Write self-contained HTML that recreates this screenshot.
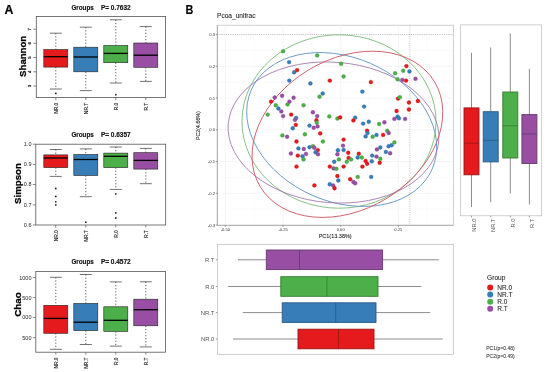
<!DOCTYPE html>
<html><head><meta charset="utf-8"><style>
html,body{margin:0;padding:0;background:#fff;width:550px;height:372px;overflow:hidden}
svg{display:block;will-change:transform}
text{font-family:"Liberation Sans",sans-serif}
</style></head><body>
<svg width="550" height="372" viewBox="0 0 550 372">
<text x="71.4" y="9.5" font-size="6.3" text-anchor="start" font-weight="bold" fill="#111" stroke="#111" stroke-width="0.15">Groups</text>
<text x="100.9" y="9.5" font-size="6.5" text-anchor="start" font-weight="bold" fill="#111" stroke="#111" stroke-width="0.15">P= 0.7632</text>
<text x="25.9" y="56.35" font-size="9.6" text-anchor="middle" font-weight="bold" fill="#000" transform="rotate(-90 25.9 56.35)" stroke="#000" stroke-width="0.25">Shannon</text>
<rect x="36.3" y="16.5" width="129.3" height="81.0" fill="none" stroke="#555" stroke-width="0.8"/>
<line x1="33.3" y1="29.2" x2="36.3" y2="29.2" stroke="#555" stroke-width="0.7"/>
<text x="31.299999999999997" y="29.2" font-size="4.2" text-anchor="middle" font-weight="normal" fill="#222" transform="rotate(-90 31.299999999999997 29.2)" stroke="#222" stroke-width="0.25">7</text>
<line x1="33.3" y1="43.3" x2="36.3" y2="43.3" stroke="#555" stroke-width="0.7"/>
<text x="31.299999999999997" y="43.3" font-size="4.2" text-anchor="middle" font-weight="normal" fill="#222" transform="rotate(-90 31.299999999999997 43.3)" stroke="#222" stroke-width="0.25">6</text>
<line x1="33.3" y1="57.5" x2="36.3" y2="57.5" stroke="#555" stroke-width="0.7"/>
<text x="31.299999999999997" y="57.5" font-size="4.2" text-anchor="middle" font-weight="normal" fill="#222" transform="rotate(-90 31.299999999999997 57.5)" stroke="#222" stroke-width="0.25">5</text>
<line x1="33.3" y1="71.8" x2="36.3" y2="71.8" stroke="#555" stroke-width="0.7"/>
<text x="31.299999999999997" y="71.8" font-size="4.2" text-anchor="middle" font-weight="normal" fill="#222" transform="rotate(-90 31.299999999999997 71.8)" stroke="#222" stroke-width="0.25">4</text>
<line x1="33.3" y1="86" x2="36.3" y2="86" stroke="#555" stroke-width="0.7"/>
<text x="31.299999999999997" y="86" font-size="4.2" text-anchor="middle" font-weight="normal" fill="#222" transform="rotate(-90 31.299999999999997 86)" stroke="#222" stroke-width="0.25">3</text>
<line x1="55.8" y1="33.2" x2="55.8" y2="49.6" stroke="#333" stroke-width="0.8" stroke-dasharray="1.2 1.9"/>
<line x1="55.8" y1="67.1" x2="55.8" y2="89" stroke="#333" stroke-width="0.8" stroke-dasharray="1.2 1.9"/>
<line x1="49.8" y1="33.2" x2="61.8" y2="33.2" stroke="#444" stroke-width="0.75"/>
<line x1="49.8" y1="89" x2="61.8" y2="89" stroke="#444" stroke-width="0.75"/>
<rect x="43.8" y="49.6" width="24" height="17.499999999999993" fill="#E41A1C" stroke="#222" stroke-width="0.6"/>
<line x1="43.8" y1="56.7" x2="67.8" y2="56.7" stroke="#000" stroke-width="1.3"/>
<circle cx="55.8" cy="93.4" r="0.9" fill="#222"/>
<line x1="55.8" y1="97.5" x2="55.8" y2="100.0" stroke="#555" stroke-width="0.7"/>
<text x="58.199999999999996" y="102.7" font-size="4.9" text-anchor="end" font-weight="normal" fill="#222" transform="rotate(-90 58.199999999999996 102.7)" stroke="#222" stroke-width="0.15">NR.0</text>
<line x1="85.8" y1="27.2" x2="85.8" y2="47.2" stroke="#333" stroke-width="0.8" stroke-dasharray="1.2 1.9"/>
<line x1="85.8" y1="71.8" x2="85.8" y2="90.6" stroke="#333" stroke-width="0.8" stroke-dasharray="1.2 1.9"/>
<line x1="79.8" y1="27.2" x2="91.8" y2="27.2" stroke="#444" stroke-width="0.75"/>
<line x1="79.8" y1="90.6" x2="91.8" y2="90.6" stroke="#444" stroke-width="0.75"/>
<rect x="73.8" y="47.2" width="24" height="24.599999999999994" fill="#377EB8" stroke="#222" stroke-width="0.6"/>
<line x1="73.8" y1="57" x2="97.8" y2="57" stroke="#000" stroke-width="1.3"/>
<line x1="85.8" y1="97.5" x2="85.8" y2="100.0" stroke="#555" stroke-width="0.7"/>
<text x="88.2" y="102.7" font-size="4.9" text-anchor="end" font-weight="normal" fill="#222" transform="rotate(-90 88.2 102.7)" stroke="#222" stroke-width="0.15">NR.T</text>
<line x1="115.8" y1="19.8" x2="115.8" y2="45.5" stroke="#333" stroke-width="0.8" stroke-dasharray="1.2 1.9"/>
<line x1="115.8" y1="62.7" x2="115.8" y2="83" stroke="#333" stroke-width="0.8" stroke-dasharray="1.2 1.9"/>
<line x1="109.8" y1="19.8" x2="121.8" y2="19.8" stroke="#444" stroke-width="0.75"/>
<line x1="109.8" y1="83" x2="121.8" y2="83" stroke="#444" stroke-width="0.75"/>
<rect x="103.8" y="45.5" width="24" height="17.200000000000003" fill="#4DAF4A" stroke="#222" stroke-width="0.6"/>
<line x1="103.8" y1="53.4" x2="127.8" y2="53.4" stroke="#000" stroke-width="1.3"/>
<circle cx="115.8" cy="94.7" r="0.9" fill="#222"/>
<line x1="115.8" y1="97.5" x2="115.8" y2="100.0" stroke="#555" stroke-width="0.7"/>
<text x="118.2" y="102.7" font-size="4.9" text-anchor="end" font-weight="normal" fill="#222" transform="rotate(-90 118.2 102.7)" stroke="#222" stroke-width="0.15">R.0</text>
<line x1="145.8" y1="26.6" x2="145.8" y2="43" stroke="#333" stroke-width="0.8" stroke-dasharray="1.2 1.9"/>
<line x1="145.8" y1="67.3" x2="145.8" y2="81.4" stroke="#333" stroke-width="0.8" stroke-dasharray="1.2 1.9"/>
<line x1="139.8" y1="26.6" x2="151.8" y2="26.6" stroke="#444" stroke-width="0.75"/>
<line x1="139.8" y1="81.4" x2="151.8" y2="81.4" stroke="#444" stroke-width="0.75"/>
<rect x="133.8" y="43" width="24" height="24.299999999999997" fill="#984EA3" stroke="#222" stroke-width="0.6"/>
<line x1="133.8" y1="55.2" x2="157.8" y2="55.2" stroke="#000" stroke-width="1.3"/>
<line x1="145.8" y1="97.5" x2="145.8" y2="100.0" stroke="#555" stroke-width="0.7"/>
<text x="148.20000000000002" y="102.7" font-size="4.9" text-anchor="end" font-weight="normal" fill="#222" transform="rotate(-90 148.20000000000002 102.7)" stroke="#222" stroke-width="0.15">R.T</text>
<text x="71.4" y="136.5" font-size="6.3" text-anchor="start" font-weight="bold" fill="#111" stroke="#111" stroke-width="0.15">Groups</text>
<text x="100.9" y="136.5" font-size="6.5" text-anchor="start" font-weight="bold" fill="#111" stroke="#111" stroke-width="0.15">P= 0.6357</text>
<text x="20.9" y="183.5" font-size="9.7" text-anchor="middle" font-weight="bold" fill="#000" transform="rotate(-90 20.9 183.5)" stroke="#000" stroke-width="0.25">Simpson</text>
<rect x="35.8" y="144.2" width="129.89999999999998" height="80.80000000000001" fill="none" stroke="#555" stroke-width="0.8"/>
<line x1="32.8" y1="144.2" x2="35.8" y2="144.2" stroke="#555" stroke-width="0.7"/>
<text x="31.499999999999996" y="146.1" font-size="5.5" text-anchor="end" font-weight="normal" fill="#222" >1.0</text>
<line x1="32.8" y1="164.4" x2="35.8" y2="164.4" stroke="#555" stroke-width="0.7"/>
<text x="31.499999999999996" y="166.3" font-size="5.5" text-anchor="end" font-weight="normal" fill="#222" >0.9</text>
<line x1="32.8" y1="184.5" x2="35.8" y2="184.5" stroke="#555" stroke-width="0.7"/>
<text x="31.499999999999996" y="186.4" font-size="5.5" text-anchor="end" font-weight="normal" fill="#222" >0.8</text>
<line x1="32.8" y1="204.9" x2="35.8" y2="204.9" stroke="#555" stroke-width="0.7"/>
<text x="31.499999999999996" y="206.8" font-size="5.5" text-anchor="end" font-weight="normal" fill="#222" >0.7</text>
<line x1="32.8" y1="225" x2="35.8" y2="225" stroke="#555" stroke-width="0.7"/>
<text x="31.499999999999996" y="226.9" font-size="5.5" text-anchor="end" font-weight="normal" fill="#222" >0.6</text>
<line x1="55.8" y1="149.5" x2="55.8" y2="154.9" stroke="#333" stroke-width="0.8" stroke-dasharray="1.2 1.9"/>
<line x1="55.8" y1="167.6" x2="55.8" y2="176.4" stroke="#333" stroke-width="0.8" stroke-dasharray="1.2 1.9"/>
<line x1="49.8" y1="149.5" x2="61.8" y2="149.5" stroke="#444" stroke-width="0.75"/>
<line x1="49.8" y1="176.4" x2="61.8" y2="176.4" stroke="#444" stroke-width="0.75"/>
<rect x="43.8" y="154.9" width="24" height="12.699999999999989" fill="#E41A1C" stroke="#222" stroke-width="0.6"/>
<line x1="43.8" y1="158" x2="67.8" y2="158" stroke="#000" stroke-width="1.3"/>
<circle cx="55.8" cy="188.5" r="0.9" fill="#222"/>
<circle cx="55.8" cy="196.4" r="0.9" fill="#222"/>
<circle cx="55.8" cy="201.8" r="0.9" fill="#222"/>
<circle cx="55.8" cy="204.9" r="0.9" fill="#222"/>
<line x1="55.8" y1="225" x2="55.8" y2="227.5" stroke="#555" stroke-width="0.7"/>
<text x="58.199999999999996" y="230.2" font-size="4.9" text-anchor="end" font-weight="normal" fill="#222" transform="rotate(-90 58.199999999999996 230.2)" stroke="#222" stroke-width="0.15">NR.0</text>
<line x1="85.8" y1="148.9" x2="85.8" y2="154.5" stroke="#333" stroke-width="0.8" stroke-dasharray="1.2 1.9"/>
<line x1="85.8" y1="175.5" x2="85.8" y2="196.7" stroke="#333" stroke-width="0.8" stroke-dasharray="1.2 1.9"/>
<line x1="79.8" y1="148.9" x2="91.8" y2="148.9" stroke="#444" stroke-width="0.75"/>
<line x1="79.8" y1="196.7" x2="91.8" y2="196.7" stroke="#444" stroke-width="0.75"/>
<rect x="73.8" y="154.5" width="24" height="21.0" fill="#377EB8" stroke="#222" stroke-width="0.6"/>
<line x1="73.8" y1="159.5" x2="97.8" y2="159.5" stroke="#000" stroke-width="1.3"/>
<circle cx="85.8" cy="222.2" r="0.9" fill="#222"/>
<line x1="85.8" y1="225" x2="85.8" y2="227.5" stroke="#555" stroke-width="0.7"/>
<text x="88.2" y="230.2" font-size="4.9" text-anchor="end" font-weight="normal" fill="#222" transform="rotate(-90 88.2 230.2)" stroke="#222" stroke-width="0.15">NR.T</text>
<line x1="115.8" y1="147" x2="115.8" y2="153.1" stroke="#333" stroke-width="0.8" stroke-dasharray="1.2 1.9"/>
<line x1="115.8" y1="167.6" x2="115.8" y2="189.4" stroke="#333" stroke-width="0.8" stroke-dasharray="1.2 1.9"/>
<line x1="109.8" y1="147" x2="121.8" y2="147" stroke="#444" stroke-width="0.75"/>
<line x1="109.8" y1="189.4" x2="121.8" y2="189.4" stroke="#444" stroke-width="0.75"/>
<rect x="103.8" y="153.1" width="24" height="14.5" fill="#4DAF4A" stroke="#222" stroke-width="0.6"/>
<line x1="103.8" y1="156.3" x2="127.8" y2="156.3" stroke="#000" stroke-width="1.3"/>
<circle cx="115.8" cy="193.9" r="0.9" fill="#222"/>
<circle cx="115.8" cy="212.9" r="0.9" fill="#222"/>
<circle cx="115.8" cy="218" r="0.9" fill="#222"/>
<line x1="115.8" y1="225" x2="115.8" y2="227.5" stroke="#555" stroke-width="0.7"/>
<text x="118.2" y="230.2" font-size="4.9" text-anchor="end" font-weight="normal" fill="#222" transform="rotate(-90 118.2 230.2)" stroke="#222" stroke-width="0.15">R.0</text>
<line x1="145.8" y1="148.4" x2="145.8" y2="152.7" stroke="#333" stroke-width="0.8" stroke-dasharray="1.2 1.9"/>
<line x1="145.8" y1="169.1" x2="145.8" y2="183.7" stroke="#333" stroke-width="0.8" stroke-dasharray="1.2 1.9"/>
<line x1="139.8" y1="148.4" x2="151.8" y2="148.4" stroke="#444" stroke-width="0.75"/>
<line x1="139.8" y1="183.7" x2="151.8" y2="183.7" stroke="#444" stroke-width="0.75"/>
<rect x="133.8" y="152.7" width="24" height="16.400000000000006" fill="#984EA3" stroke="#222" stroke-width="0.6"/>
<line x1="133.8" y1="160.4" x2="157.8" y2="160.4" stroke="#000" stroke-width="1.3"/>
<line x1="145.8" y1="225" x2="145.8" y2="227.5" stroke="#555" stroke-width="0.7"/>
<text x="148.20000000000002" y="230.2" font-size="4.9" text-anchor="end" font-weight="normal" fill="#222" transform="rotate(-90 148.20000000000002 230.2)" stroke="#222" stroke-width="0.15">R.T</text>
<text x="71.4" y="264.2" font-size="6.3" text-anchor="start" font-weight="bold" fill="#111" stroke="#111" stroke-width="0.15">Groups</text>
<text x="100.9" y="264.2" font-size="6.5" text-anchor="start" font-weight="bold" fill="#111" stroke="#111" stroke-width="0.15">P= 0.4572</text>
<text x="21.2" y="304.6" font-size="9.8" text-anchor="middle" font-weight="bold" fill="#000" transform="rotate(-90 21.2 304.6)" stroke="#000" stroke-width="0.25">Chao</text>
<rect x="35.8" y="271.4" width="129.60000000000002" height="80.80000000000001" fill="none" stroke="#555" stroke-width="0.8"/>
<line x1="32.8" y1="277.6" x2="35.8" y2="277.6" stroke="#555" stroke-width="0.7"/>
<text x="31.499999999999996" y="279.5" font-size="5.5" text-anchor="end" font-weight="normal" fill="#222" >1000</text>
<line x1="32.8" y1="297.6" x2="35.8" y2="297.6" stroke="#555" stroke-width="0.7"/>
<text x="31.499999999999996" y="299.5" font-size="5.5" text-anchor="end" font-weight="normal" fill="#222" >500</text>
<line x1="32.8" y1="317.4" x2="35.8" y2="317.4" stroke="#555" stroke-width="0.7"/>
<text x="31.499999999999996" y="319.29999999999995" font-size="5.5" text-anchor="end" font-weight="normal" fill="#222" >000</text>
<line x1="32.8" y1="337.7" x2="35.8" y2="337.7" stroke="#555" stroke-width="0.7"/>
<text x="31.499999999999996" y="339.59999999999997" font-size="5.5" text-anchor="end" font-weight="normal" fill="#222" >500</text>
<line x1="55.8" y1="277.3" x2="55.8" y2="305.3" stroke="#333" stroke-width="0.8" stroke-dasharray="1.2 1.9"/>
<line x1="55.8" y1="333.3" x2="55.8" y2="349.3" stroke="#333" stroke-width="0.8" stroke-dasharray="1.2 1.9"/>
<line x1="49.8" y1="277.3" x2="61.8" y2="277.3" stroke="#444" stroke-width="0.75"/>
<line x1="49.8" y1="349.3" x2="61.8" y2="349.3" stroke="#444" stroke-width="0.75"/>
<rect x="43.8" y="305.3" width="24" height="28.0" fill="#E41A1C" stroke="#222" stroke-width="0.6"/>
<line x1="43.8" y1="318.4" x2="67.8" y2="318.4" stroke="#000" stroke-width="1.3"/>
<line x1="55.8" y1="352.2" x2="55.8" y2="354.7" stroke="#555" stroke-width="0.7"/>
<text x="58.199999999999996" y="357.4" font-size="4.9" text-anchor="end" font-weight="normal" fill="#222" transform="rotate(-90 58.199999999999996 357.4)" stroke="#222" stroke-width="0.15">NR.0</text>
<line x1="85.8" y1="274.5" x2="85.8" y2="303.4" stroke="#333" stroke-width="0.8" stroke-dasharray="1.2 1.9"/>
<line x1="85.8" y1="330.6" x2="85.8" y2="344.5" stroke="#333" stroke-width="0.8" stroke-dasharray="1.2 1.9"/>
<line x1="79.8" y1="274.5" x2="91.8" y2="274.5" stroke="#444" stroke-width="0.75"/>
<line x1="79.8" y1="344.5" x2="91.8" y2="344.5" stroke="#444" stroke-width="0.75"/>
<rect x="73.8" y="303.4" width="24" height="27.200000000000045" fill="#377EB8" stroke="#222" stroke-width="0.6"/>
<line x1="73.8" y1="322.2" x2="97.8" y2="322.2" stroke="#000" stroke-width="1.3"/>
<line x1="85.8" y1="352.2" x2="85.8" y2="354.7" stroke="#555" stroke-width="0.7"/>
<text x="88.2" y="357.4" font-size="4.9" text-anchor="end" font-weight="normal" fill="#222" transform="rotate(-90 88.2 357.4)" stroke="#222" stroke-width="0.15">NR.T</text>
<line x1="115.8" y1="281.9" x2="115.8" y2="306.8" stroke="#333" stroke-width="0.8" stroke-dasharray="1.2 1.9"/>
<line x1="115.8" y1="331.4" x2="115.8" y2="346.1" stroke="#333" stroke-width="0.8" stroke-dasharray="1.2 1.9"/>
<line x1="109.8" y1="281.9" x2="121.8" y2="281.9" stroke="#444" stroke-width="0.75"/>
<line x1="109.8" y1="346.1" x2="121.8" y2="346.1" stroke="#444" stroke-width="0.75"/>
<rect x="103.8" y="306.8" width="24" height="24.599999999999966" fill="#4DAF4A" stroke="#222" stroke-width="0.6"/>
<line x1="103.8" y1="320.3" x2="127.8" y2="320.3" stroke="#000" stroke-width="1.3"/>
<line x1="115.8" y1="352.2" x2="115.8" y2="354.7" stroke="#555" stroke-width="0.7"/>
<text x="118.2" y="357.4" font-size="4.9" text-anchor="end" font-weight="normal" fill="#222" transform="rotate(-90 118.2 357.4)" stroke="#222" stroke-width="0.15">R.0</text>
<line x1="145.8" y1="281.8" x2="145.8" y2="299.2" stroke="#333" stroke-width="0.8" stroke-dasharray="1.2 1.9"/>
<line x1="145.8" y1="325.8" x2="145.8" y2="346.9" stroke="#333" stroke-width="0.8" stroke-dasharray="1.2 1.9"/>
<line x1="139.8" y1="281.8" x2="151.8" y2="281.8" stroke="#444" stroke-width="0.75"/>
<line x1="139.8" y1="346.9" x2="151.8" y2="346.9" stroke="#444" stroke-width="0.75"/>
<rect x="133.8" y="299.2" width="24" height="26.600000000000023" fill="#984EA3" stroke="#222" stroke-width="0.6"/>
<line x1="133.8" y1="309.7" x2="157.8" y2="309.7" stroke="#000" stroke-width="1.3"/>
<line x1="145.8" y1="352.2" x2="145.8" y2="354.7" stroke="#555" stroke-width="0.7"/>
<text x="148.20000000000002" y="357.4" font-size="4.9" text-anchor="end" font-weight="normal" fill="#222" transform="rotate(-90 148.20000000000002 357.4)" stroke="#222" stroke-width="0.15">R.T</text>
<text x="4.4" y="14.1" font-size="12.3" text-anchor="start" font-weight="bold" fill="#000" stroke="#000" stroke-width="0.2">A</text>
<text x="0" y="0" font-size="12.6" font-weight="bold" fill="#000" stroke="#000" stroke-width="0.15" transform="translate(185.4 13.85) scale(0.86 1)">B</text>
<rect x="217.3" y="25.2" width="236.0" height="200.10000000000002" fill="#fff" stroke="#bbb" stroke-width="0.7"/>
<line x1="225.40" y1="25.2" x2="225.40" y2="225.3" stroke="#eeeeee" stroke-width="0.6"/>
<line x1="283.05" y1="25.2" x2="283.05" y2="225.3" stroke="#eeeeee" stroke-width="0.6"/>
<line x1="340.70" y1="25.2" x2="340.70" y2="225.3" stroke="#eeeeee" stroke-width="0.6"/>
<line x1="398.35" y1="25.2" x2="398.35" y2="225.3" stroke="#eeeeee" stroke-width="0.6"/>
<line x1="254.22" y1="25.2" x2="254.22" y2="225.3" stroke="#f5f5f5" stroke-width="0.4"/>
<line x1="311.88" y1="25.2" x2="311.88" y2="225.3" stroke="#f5f5f5" stroke-width="0.4"/>
<line x1="369.52" y1="25.2" x2="369.52" y2="225.3" stroke="#f5f5f5" stroke-width="0.4"/>
<line x1="427.17" y1="25.2" x2="427.17" y2="225.3" stroke="#f5f5f5" stroke-width="0.4"/>
<line x1="217.3" y1="34.55" x2="453.3" y2="34.55" stroke="#eeeeee" stroke-width="0.6"/>
<line x1="217.3" y1="66.30" x2="453.3" y2="66.30" stroke="#eeeeee" stroke-width="0.6"/>
<line x1="217.3" y1="98.05" x2="453.3" y2="98.05" stroke="#eeeeee" stroke-width="0.6"/>
<line x1="217.3" y1="129.80" x2="453.3" y2="129.80" stroke="#eeeeee" stroke-width="0.6"/>
<line x1="217.3" y1="161.55" x2="453.3" y2="161.55" stroke="#eeeeee" stroke-width="0.6"/>
<line x1="217.3" y1="193.30" x2="453.3" y2="193.30" stroke="#eeeeee" stroke-width="0.6"/>
<line x1="217.3" y1="225.05" x2="453.3" y2="225.05" stroke="#eeeeee" stroke-width="0.6"/>
<line x1="217.3" y1="50.43" x2="453.3" y2="50.43" stroke="#f5f5f5" stroke-width="0.4"/>
<line x1="217.3" y1="82.18" x2="453.3" y2="82.18" stroke="#f5f5f5" stroke-width="0.4"/>
<line x1="217.3" y1="113.93" x2="453.3" y2="113.93" stroke="#f5f5f5" stroke-width="0.4"/>
<line x1="217.3" y1="145.68" x2="453.3" y2="145.68" stroke="#f5f5f5" stroke-width="0.4"/>
<line x1="217.3" y1="177.43" x2="453.3" y2="177.43" stroke="#f5f5f5" stroke-width="0.4"/>
<line x1="217.3" y1="209.18" x2="453.3" y2="209.18" stroke="#f5f5f5" stroke-width="0.4"/>
<line x1="217.3" y1="34.55" x2="453.3" y2="34.55" stroke="#888" stroke-width="0.55" stroke-dasharray="0.9 1.3"/>
<line x1="409.88" y1="25.2" x2="409.88" y2="225.3" stroke="#888" stroke-width="0.55" stroke-dasharray="0.9 1.3"/>
<line x1="217.3" y1="25.2" x2="217.3" y2="225.3" stroke="#a8a8a8" stroke-width="0.9"/>
<line x1="217.3" y1="225.3" x2="453.3" y2="225.3" stroke="#a8a8a8" stroke-width="0.9"/>
<line x1="215.8" y1="34.55" x2="217.3" y2="34.55" stroke="#555" stroke-width="0.6"/>
<text x="215.0" y="36.05000000000001" font-size="4.2" text-anchor="end" font-weight="normal" fill="#333" >0.3</text>
<line x1="215.8" y1="66.30" x2="217.3" y2="66.30" stroke="#555" stroke-width="0.6"/>
<text x="215.0" y="67.80000000000001" font-size="4.2" text-anchor="end" font-weight="normal" fill="#333" >0.2</text>
<line x1="215.8" y1="98.05" x2="217.3" y2="98.05" stroke="#555" stroke-width="0.6"/>
<text x="215.0" y="99.55000000000001" font-size="4.2" text-anchor="end" font-weight="normal" fill="#333" >0.1</text>
<line x1="215.8" y1="129.80" x2="217.3" y2="129.80" stroke="#555" stroke-width="0.6"/>
<text x="215.0" y="131.3" font-size="4.2" text-anchor="end" font-weight="normal" fill="#333" >0.0</text>
<line x1="215.8" y1="161.55" x2="217.3" y2="161.55" stroke="#555" stroke-width="0.6"/>
<text x="215.0" y="163.05" font-size="4.2" text-anchor="end" font-weight="normal" fill="#333" >-0.1</text>
<line x1="215.8" y1="193.30" x2="217.3" y2="193.30" stroke="#555" stroke-width="0.6"/>
<text x="215.0" y="194.8" font-size="4.2" text-anchor="end" font-weight="normal" fill="#333" >-0.2</text>
<line x1="215.8" y1="225.05" x2="217.3" y2="225.05" stroke="#555" stroke-width="0.6"/>
<text x="215.0" y="226.55" font-size="4.2" text-anchor="end" font-weight="normal" fill="#333" >-0.3</text>
<line x1="225.40" y1="225.3" x2="225.40" y2="226.8" stroke="#555" stroke-width="0.6"/>
<text x="225.39999999999998" y="231.3" font-size="4.1" text-anchor="middle" font-weight="normal" fill="#333" >-0.50</text>
<line x1="283.05" y1="225.3" x2="283.05" y2="226.8" stroke="#555" stroke-width="0.6"/>
<text x="283.05" y="231.3" font-size="4.1" text-anchor="middle" font-weight="normal" fill="#333" >-0.25</text>
<line x1="340.70" y1="225.3" x2="340.70" y2="226.8" stroke="#555" stroke-width="0.6"/>
<text x="340.7" y="231.3" font-size="4.1" text-anchor="middle" font-weight="normal" fill="#333" >0.00</text>
<line x1="398.35" y1="225.3" x2="398.35" y2="226.8" stroke="#555" stroke-width="0.6"/>
<text x="398.34999999999997" y="231.3" font-size="4.1" text-anchor="middle" font-weight="normal" fill="#333" >0.25</text>
<text x="335.2" y="238.3" font-size="5.5" text-anchor="middle" font-weight="normal" fill="#222" stroke="#222" stroke-width="0.08">PC1(13.38%)</text>
<text x="199.6" y="125.6" font-size="5.3" text-anchor="middle" font-weight="normal" fill="#222" transform="rotate(-90 199.6 125.6)" stroke="#222" stroke-width="0.08">PC2(4.66%)</text>
<text x="217" y="18.3" font-size="6.6" text-anchor="start" font-weight="normal" fill="#222" stroke="#222" stroke-width="0.08">Pcoa_unifrac</text>
<ellipse cx="339.0" cy="121.5" rx="97.03" ry="86.71" transform="rotate(0.5 339.0 121.5)" fill="none" stroke="#72b672" stroke-width="0.85"/>
<ellipse cx="341.7" cy="129.5" rx="98.74" ry="72.11" transform="rotate(23.5 341.7 129.5)" fill="none" stroke="#6497c4" stroke-width="0.85"/>
<ellipse cx="333.5" cy="132.5" rx="105.61" ry="70.28" transform="rotate(4.7 333.5 132.5)" fill="none" stroke="#a276ac" stroke-width="0.85"/>
<ellipse cx="347.4" cy="134.3" rx="101.73" ry="75.2" transform="rotate(-31.1 347.4 134.3)" fill="none" stroke="#cd5a62" stroke-width="0.85"/>
<circle cx="283.1" cy="51.2" r="1.95" fill="#4DAF4A" stroke="#3f963d" stroke-width="0.35"/>
<circle cx="289.1" cy="62.1" r="1.95" fill="#377EB8" stroke="#2f6ca0" stroke-width="0.35"/>
<circle cx="294.1" cy="72.3" r="1.95" fill="#377EB8" stroke="#2f6ca0" stroke-width="0.35"/>
<circle cx="297.1" cy="70.1" r="1.95" fill="#E41A1C" stroke="#c41517" stroke-width="0.35"/>
<circle cx="289.3" cy="80.6" r="1.95" fill="#377EB8" stroke="#2f6ca0" stroke-width="0.35"/>
<circle cx="317.2" cy="55.4" r="1.95" fill="#4DAF4A" stroke="#3f963d" stroke-width="0.35"/>
<circle cx="341.1" cy="63.7" r="1.95" fill="#4DAF4A" stroke="#3f963d" stroke-width="0.35"/>
<circle cx="343.6" cy="76.5" r="1.95" fill="#4DAF4A" stroke="#3f963d" stroke-width="0.35"/>
<circle cx="310.4" cy="83.4" r="1.95" fill="#377EB8" stroke="#2f6ca0" stroke-width="0.35"/>
<circle cx="329.8" cy="80.6" r="1.95" fill="#E41A1C" stroke="#c41517" stroke-width="0.35"/>
<circle cx="370.9" cy="82.1" r="1.95" fill="#E41A1C" stroke="#c41517" stroke-width="0.35"/>
<circle cx="406.4" cy="66.1" r="1.95" fill="#E41A1C" stroke="#c41517" stroke-width="0.35"/>
<circle cx="403.2" cy="70.8" r="1.95" fill="#4DAF4A" stroke="#3f963d" stroke-width="0.35"/>
<circle cx="409.4" cy="71.4" r="1.95" fill="#377EB8" stroke="#2f6ca0" stroke-width="0.35"/>
<circle cx="395.1" cy="73.3" r="1.95" fill="#4DAF4A" stroke="#3f963d" stroke-width="0.35"/>
<circle cx="397.6" cy="79.3" r="1.95" fill="#4DAF4A" stroke="#3f963d" stroke-width="0.35"/>
<circle cx="402.3" cy="79.9" r="1.95" fill="#984EA3" stroke="#83438c" stroke-width="0.35"/>
<circle cx="406.1" cy="80.6" r="1.95" fill="#E41A1C" stroke="#c41517" stroke-width="0.35"/>
<circle cx="415.5" cy="78.7" r="1.95" fill="#984EA3" stroke="#83438c" stroke-width="0.35"/>
<circle cx="362.4" cy="91.6" r="1.95" fill="#377EB8" stroke="#2f6ca0" stroke-width="0.35"/>
<circle cx="274.7" cy="97.5" r="1.95" fill="#984EA3" stroke="#83438c" stroke-width="0.35"/>
<circle cx="282.1" cy="95.8" r="1.95" fill="#984EA3" stroke="#83438c" stroke-width="0.35"/>
<circle cx="293.6" cy="97.7" r="1.95" fill="#984EA3" stroke="#83438c" stroke-width="0.35"/>
<circle cx="271.1" cy="101.6" r="1.95" fill="#E41A1C" stroke="#c41517" stroke-width="0.35"/>
<circle cx="275.8" cy="105.3" r="1.95" fill="#4DAF4A" stroke="#3f963d" stroke-width="0.35"/>
<circle cx="278.4" cy="108.5" r="1.95" fill="#377EB8" stroke="#2f6ca0" stroke-width="0.35"/>
<circle cx="281.3" cy="111.4" r="1.95" fill="#984EA3" stroke="#83438c" stroke-width="0.35"/>
<circle cx="283.1" cy="116.1" r="1.95" fill="#984EA3" stroke="#83438c" stroke-width="0.35"/>
<circle cx="287.5" cy="104.4" r="1.95" fill="#4DAF4A" stroke="#3f963d" stroke-width="0.35"/>
<circle cx="289.4" cy="101.6" r="1.95" fill="#984EA3" stroke="#83438c" stroke-width="0.35"/>
<circle cx="267.7" cy="114.6" r="1.95" fill="#4DAF4A" stroke="#3f963d" stroke-width="0.35"/>
<circle cx="291.2" cy="114.6" r="1.95" fill="#E41A1C" stroke="#c41517" stroke-width="0.35"/>
<circle cx="292.7" cy="128.3" r="1.95" fill="#377EB8" stroke="#2f6ca0" stroke-width="0.35"/>
<circle cx="282.4" cy="135.4" r="1.95" fill="#4DAF4A" stroke="#3f963d" stroke-width="0.35"/>
<circle cx="287.1" cy="136.8" r="1.95" fill="#984EA3" stroke="#83438c" stroke-width="0.35"/>
<circle cx="290.9" cy="153.5" r="1.95" fill="#984EA3" stroke="#83438c" stroke-width="0.35"/>
<circle cx="322.7" cy="93.5" r="1.95" fill="#377EB8" stroke="#2f6ca0" stroke-width="0.35"/>
<circle cx="319.5" cy="96.7" r="1.95" fill="#4DAF4A" stroke="#3f963d" stroke-width="0.35"/>
<circle cx="303.5" cy="105.3" r="1.95" fill="#4DAF4A" stroke="#3f963d" stroke-width="0.35"/>
<circle cx="364.1" cy="106.6" r="1.95" fill="#377EB8" stroke="#2f6ca0" stroke-width="0.35"/>
<circle cx="312.9" cy="112.3" r="1.95" fill="#984EA3" stroke="#83438c" stroke-width="0.35"/>
<circle cx="317.2" cy="116.1" r="1.95" fill="#984EA3" stroke="#83438c" stroke-width="0.35"/>
<circle cx="329.3" cy="116.4" r="1.95" fill="#4DAF4A" stroke="#3f963d" stroke-width="0.35"/>
<circle cx="337.4" cy="118.5" r="1.95" fill="#4DAF4A" stroke="#3f963d" stroke-width="0.35"/>
<circle cx="340.2" cy="117.4" r="1.95" fill="#E41A1C" stroke="#c41517" stroke-width="0.35"/>
<circle cx="355.2" cy="117.6" r="1.95" fill="#377EB8" stroke="#2f6ca0" stroke-width="0.35"/>
<circle cx="353.4" cy="120.4" r="1.95" fill="#E41A1C" stroke="#c41517" stroke-width="0.35"/>
<circle cx="368.8" cy="121.7" r="1.95" fill="#377EB8" stroke="#2f6ca0" stroke-width="0.35"/>
<circle cx="363.1" cy="123.6" r="1.95" fill="#377EB8" stroke="#2f6ca0" stroke-width="0.35"/>
<circle cx="296.1" cy="117.9" r="1.95" fill="#377EB8" stroke="#2f6ca0" stroke-width="0.35"/>
<circle cx="295" cy="119.8" r="1.95" fill="#984EA3" stroke="#83438c" stroke-width="0.35"/>
<circle cx="295.8" cy="124.9" r="1.95" fill="#E41A1C" stroke="#c41517" stroke-width="0.35"/>
<circle cx="316.4" cy="120.3" r="1.95" fill="#E41A1C" stroke="#c41517" stroke-width="0.35"/>
<circle cx="316.8" cy="122.7" r="1.95" fill="#4DAF4A" stroke="#3f963d" stroke-width="0.35"/>
<circle cx="317.6" cy="126.4" r="1.95" fill="#984EA3" stroke="#83438c" stroke-width="0.35"/>
<circle cx="313.7" cy="127.8" r="1.95" fill="#984EA3" stroke="#83438c" stroke-width="0.35"/>
<circle cx="309.5" cy="125.6" r="1.95" fill="#377EB8" stroke="#2f6ca0" stroke-width="0.35"/>
<circle cx="320.2" cy="133.4" r="1.95" fill="#E41A1C" stroke="#c41517" stroke-width="0.35"/>
<circle cx="304.9" cy="134.3" r="1.95" fill="#4DAF4A" stroke="#3f963d" stroke-width="0.35"/>
<circle cx="296.5" cy="141.5" r="1.95" fill="#E41A1C" stroke="#c41517" stroke-width="0.35"/>
<circle cx="322.9" cy="141.5" r="1.95" fill="#4DAF4A" stroke="#3f963d" stroke-width="0.35"/>
<circle cx="343.6" cy="139.6" r="1.95" fill="#E41A1C" stroke="#c41517" stroke-width="0.35"/>
<circle cx="367.1" cy="130.7" r="1.95" fill="#E41A1C" stroke="#c41517" stroke-width="0.35"/>
<circle cx="367.5" cy="133" r="1.95" fill="#377EB8" stroke="#2f6ca0" stroke-width="0.35"/>
<circle cx="365.6" cy="136.4" r="1.95" fill="#377EB8" stroke="#2f6ca0" stroke-width="0.35"/>
<circle cx="372.7" cy="136.8" r="1.95" fill="#4DAF4A" stroke="#3f963d" stroke-width="0.35"/>
<circle cx="343" cy="145.6" r="1.95" fill="#984EA3" stroke="#83438c" stroke-width="0.35"/>
<circle cx="343.6" cy="149.9" r="1.95" fill="#377EB8" stroke="#2f6ca0" stroke-width="0.35"/>
<circle cx="337.9" cy="150.3" r="1.95" fill="#377EB8" stroke="#2f6ca0" stroke-width="0.35"/>
<circle cx="348.2" cy="152.8" r="1.95" fill="#E41A1C" stroke="#c41517" stroke-width="0.35"/>
<circle cx="358.8" cy="153.7" r="1.95" fill="#E41A1C" stroke="#c41517" stroke-width="0.35"/>
<circle cx="298.4" cy="148.4" r="1.95" fill="#377EB8" stroke="#2f6ca0" stroke-width="0.35"/>
<circle cx="303.8" cy="149" r="1.95" fill="#984EA3" stroke="#83438c" stroke-width="0.35"/>
<circle cx="309.5" cy="147.3" r="1.95" fill="#377EB8" stroke="#2f6ca0" stroke-width="0.35"/>
<circle cx="312.9" cy="146.2" r="1.95" fill="#4DAF4A" stroke="#3f963d" stroke-width="0.35"/>
<circle cx="314.3" cy="147.8" r="1.95" fill="#984EA3" stroke="#83438c" stroke-width="0.35"/>
<circle cx="317.8" cy="150.1" r="1.95" fill="#E41A1C" stroke="#c41517" stroke-width="0.35"/>
<circle cx="315.5" cy="152.3" r="1.95" fill="#377EB8" stroke="#2f6ca0" stroke-width="0.35"/>
<circle cx="318" cy="154.2" r="1.95" fill="#984EA3" stroke="#83438c" stroke-width="0.35"/>
<circle cx="337.4" cy="154.2" r="1.95" fill="#984EA3" stroke="#83438c" stroke-width="0.35"/>
<circle cx="297.8" cy="155.6" r="1.95" fill="#E41A1C" stroke="#c41517" stroke-width="0.35"/>
<circle cx="302.5" cy="156.3" r="1.95" fill="#377EB8" stroke="#2f6ca0" stroke-width="0.35"/>
<circle cx="303.5" cy="159.4" r="1.95" fill="#4DAF4A" stroke="#3f963d" stroke-width="0.35"/>
<circle cx="306" cy="153.9" r="1.95" fill="#984EA3" stroke="#83438c" stroke-width="0.35"/>
<circle cx="348.6" cy="157.9" r="1.95" fill="#E41A1C" stroke="#c41517" stroke-width="0.35"/>
<circle cx="357.7" cy="157.5" r="1.95" fill="#377EB8" stroke="#2f6ca0" stroke-width="0.35"/>
<circle cx="361.8" cy="157.5" r="1.95" fill="#4DAF4A" stroke="#3f963d" stroke-width="0.35"/>
<circle cx="338.9" cy="159.4" r="1.95" fill="#4DAF4A" stroke="#3f963d" stroke-width="0.35"/>
<circle cx="351.1" cy="159.4" r="1.95" fill="#4DAF4A" stroke="#3f963d" stroke-width="0.35"/>
<circle cx="346.8" cy="161.7" r="1.95" fill="#4DAF4A" stroke="#3f963d" stroke-width="0.35"/>
<circle cx="334.2" cy="161.7" r="1.95" fill="#377EB8" stroke="#2f6ca0" stroke-width="0.35"/>
<circle cx="365.6" cy="160.9" r="1.95" fill="#E41A1C" stroke="#c41517" stroke-width="0.35"/>
<circle cx="367.1" cy="163.7" r="1.95" fill="#E41A1C" stroke="#c41517" stroke-width="0.35"/>
<circle cx="372.2" cy="155.6" r="1.95" fill="#377EB8" stroke="#2f6ca0" stroke-width="0.35"/>
<circle cx="371.8" cy="161.3" r="1.95" fill="#377EB8" stroke="#2f6ca0" stroke-width="0.35"/>
<circle cx="296.5" cy="166.6" r="1.95" fill="#E41A1C" stroke="#c41517" stroke-width="0.35"/>
<circle cx="329.8" cy="166.6" r="1.95" fill="#E41A1C" stroke="#c41517" stroke-width="0.35"/>
<circle cx="333.6" cy="168.4" r="1.95" fill="#984EA3" stroke="#83438c" stroke-width="0.35"/>
<circle cx="336.4" cy="168.8" r="1.95" fill="#4DAF4A" stroke="#3f963d" stroke-width="0.35"/>
<circle cx="343.6" cy="166.6" r="1.95" fill="#E41A1C" stroke="#c41517" stroke-width="0.35"/>
<circle cx="362.4" cy="166.6" r="1.95" fill="#E41A1C" stroke="#c41517" stroke-width="0.35"/>
<circle cx="337.4" cy="176" r="1.95" fill="#E41A1C" stroke="#c41517" stroke-width="0.35"/>
<circle cx="338.3" cy="180.5" r="1.95" fill="#377EB8" stroke="#2f6ca0" stroke-width="0.35"/>
<circle cx="350.2" cy="179.2" r="1.95" fill="#E41A1C" stroke="#c41517" stroke-width="0.35"/>
<circle cx="357.7" cy="176.9" r="1.95" fill="#4DAF4A" stroke="#3f963d" stroke-width="0.35"/>
<circle cx="353.4" cy="182" r="1.95" fill="#984EA3" stroke="#83438c" stroke-width="0.35"/>
<circle cx="355.2" cy="183.3" r="1.95" fill="#984EA3" stroke="#83438c" stroke-width="0.35"/>
<circle cx="371.2" cy="176.9" r="1.95" fill="#377EB8" stroke="#2f6ca0" stroke-width="0.35"/>
<circle cx="314.4" cy="185.4" r="1.95" fill="#E41A1C" stroke="#c41517" stroke-width="0.35"/>
<circle cx="329.8" cy="184.3" r="1.95" fill="#377EB8" stroke="#2f6ca0" stroke-width="0.35"/>
<circle cx="333.2" cy="185.4" r="1.95" fill="#984EA3" stroke="#83438c" stroke-width="0.35"/>
<circle cx="334.5" cy="188.2" r="1.95" fill="#E41A1C" stroke="#c41517" stroke-width="0.35"/>
<circle cx="398" cy="98.6" r="1.95" fill="#E41A1C" stroke="#c41517" stroke-width="0.35"/>
<circle cx="399.8" cy="97.2" r="1.95" fill="#4DAF4A" stroke="#3f963d" stroke-width="0.35"/>
<circle cx="408.9" cy="102.5" r="1.95" fill="#E41A1C" stroke="#c41517" stroke-width="0.35"/>
<circle cx="417.9" cy="101" r="1.95" fill="#E41A1C" stroke="#c41517" stroke-width="0.35"/>
<circle cx="396.6" cy="111" r="1.95" fill="#E41A1C" stroke="#c41517" stroke-width="0.35"/>
<circle cx="408.9" cy="109.5" r="1.95" fill="#E41A1C" stroke="#c41517" stroke-width="0.35"/>
<circle cx="397.6" cy="116.6" r="1.95" fill="#377EB8" stroke="#2f6ca0" stroke-width="0.35"/>
<circle cx="398.9" cy="118.3" r="1.95" fill="#377EB8" stroke="#2f6ca0" stroke-width="0.35"/>
<circle cx="394.4" cy="118.9" r="1.95" fill="#984EA3" stroke="#83438c" stroke-width="0.35"/>
<circle cx="405.1" cy="118.9" r="1.95" fill="#984EA3" stroke="#83438c" stroke-width="0.35"/>
<circle cx="379.1" cy="124" r="1.95" fill="#4DAF4A" stroke="#3f963d" stroke-width="0.35"/>
<circle cx="384.4" cy="122.3" r="1.95" fill="#984EA3" stroke="#83438c" stroke-width="0.35"/>
<circle cx="387.2" cy="130.7" r="1.95" fill="#4DAF4A" stroke="#3f963d" stroke-width="0.35"/>
<circle cx="388.7" cy="133" r="1.95" fill="#984EA3" stroke="#83438c" stroke-width="0.35"/>
<circle cx="376.5" cy="134.9" r="1.95" fill="#377EB8" stroke="#2f6ca0" stroke-width="0.35"/>
<circle cx="383.1" cy="134.9" r="1.95" fill="#E41A1C" stroke="#c41517" stroke-width="0.35"/>
<circle cx="394.4" cy="142.4" r="1.95" fill="#4DAF4A" stroke="#3f963d" stroke-width="0.35"/>
<circle cx="391.6" cy="145.2" r="1.95" fill="#377EB8" stroke="#2f6ca0" stroke-width="0.35"/>
<circle cx="388.6" cy="146.2" r="1.95" fill="#377EB8" stroke="#2f6ca0" stroke-width="0.35"/>
<circle cx="380.3" cy="147.5" r="1.95" fill="#377EB8" stroke="#2f6ca0" stroke-width="0.35"/>
<circle cx="376.9" cy="149.4" r="1.95" fill="#984EA3" stroke="#83438c" stroke-width="0.35"/>
<circle cx="385.9" cy="151.9" r="1.95" fill="#377EB8" stroke="#2f6ca0" stroke-width="0.35"/>
<circle cx="390.1" cy="153.2" r="1.95" fill="#984EA3" stroke="#83438c" stroke-width="0.35"/>
<circle cx="376.5" cy="156.6" r="1.95" fill="#984EA3" stroke="#83438c" stroke-width="0.35"/>
<circle cx="380.3" cy="158.8" r="1.95" fill="#4DAF4A" stroke="#3f963d" stroke-width="0.35"/>
<circle cx="379.7" cy="162.8" r="1.95" fill="#E41A1C" stroke="#c41517" stroke-width="0.35"/>
<rect x="460.3" y="24.9" width="81.4" height="290.9" fill="none"/>
<rect x="460.3" y="24.9" width="81.4" height="190.9" fill="#fff" stroke="#bbb" stroke-width="0.7"/>
<line x1="471.5" y1="52.8" x2="471.5" y2="207" stroke="#808080" stroke-width="0.9"/>
<rect x="464.0" y="107.9" width="15" height="66.9" fill="#E41A1C" stroke="#9a1415" stroke-width="0.9"/>
<line x1="464.0" y1="143.2" x2="479.0" y2="143.2" stroke="#9a1415" stroke-width="0.8"/>
<line x1="471.5" y1="215.8" x2="471.5" y2="217.3" stroke="#555" stroke-width="0.6"/>
<text x="475.8" y="218.6" font-size="5.75" text-anchor="end" font-weight="normal" fill="#555" transform="rotate(-90 475.8 218.6)" >NR.0</text>
<line x1="490.7" y1="47.4" x2="490.7" y2="202.3" stroke="#808080" stroke-width="0.9"/>
<rect x="483.2" y="111.7" width="15" height="50.2" fill="#377EB8" stroke="#2a5a85" stroke-width="0.9"/>
<line x1="483.2" y1="140.3" x2="498.2" y2="140.3" stroke="#2a5a85" stroke-width="0.8"/>
<line x1="490.7" y1="215.8" x2="490.7" y2="217.3" stroke="#555" stroke-width="0.6"/>
<text x="495.0" y="218.6" font-size="5.75" text-anchor="end" font-weight="normal" fill="#555" transform="rotate(-90 495.0 218.6)" >NR.T</text>
<line x1="510.3" y1="33.4" x2="510.3" y2="193.5" stroke="#808080" stroke-width="0.9"/>
<rect x="502.8" y="92" width="15" height="66" fill="#4DAF4A" stroke="#357a33" stroke-width="0.9"/>
<line x1="502.8" y1="125.8" x2="517.8" y2="125.8" stroke="#357a33" stroke-width="0.8"/>
<line x1="510.3" y1="215.8" x2="510.3" y2="217.3" stroke="#555" stroke-width="0.6"/>
<text x="514.6" y="218.6" font-size="5.75" text-anchor="end" font-weight="normal" fill="#555" transform="rotate(-90 514.6 218.6)" >R.0</text>
<line x1="529.4" y1="68.9" x2="529.4" y2="204.5" stroke="#808080" stroke-width="0.9"/>
<rect x="521.9" y="114.6" width="15" height="48.900000000000006" fill="#984EA3" stroke="#66386f" stroke-width="0.9"/>
<line x1="521.9" y1="133.9" x2="536.9" y2="133.9" stroke="#66386f" stroke-width="0.8"/>
<line x1="529.4" y1="215.8" x2="529.4" y2="217.3" stroke="#555" stroke-width="0.6"/>
<text x="533.6999999999999" y="218.6" font-size="5.75" text-anchor="end" font-weight="normal" fill="#555" transform="rotate(-90 533.6999999999999 218.6)" >R.T</text>
<rect x="217.4" y="244.6" width="236" height="109.9" fill="#fff" stroke="#bbb" stroke-width="0.7"/>
<line x1="238" y1="259.8" x2="438.8" y2="259.8" stroke="#808080" stroke-width="0.9"/>
<rect x="266.3" y="250.0" width="116.30000000000001" height="19.6" fill="#984EA3" stroke="#66386f" stroke-width="0.9"/>
<line x1="299.5" y1="250.0" x2="299.5" y2="269.6" stroke="#66386f" stroke-width="0.8"/>
<line x1="215.9" y1="259.8" x2="217.4" y2="259.8" stroke="#555" stroke-width="0.6"/>
<text x="214.4" y="261.8" font-size="5.9" text-anchor="end" font-weight="normal" fill="#555" >R.T</text>
<line x1="228" y1="286.5" x2="421.3" y2="286.5" stroke="#808080" stroke-width="0.9"/>
<rect x="280.8" y="276.7" width="97.19999999999999" height="19.6" fill="#4DAF4A" stroke="#357a33" stroke-width="0.9"/>
<line x1="326.9" y1="276.7" x2="326.9" y2="296.3" stroke="#357a33" stroke-width="0.8"/>
<line x1="215.9" y1="286.5" x2="217.4" y2="286.5" stroke="#555" stroke-width="0.6"/>
<text x="214.4" y="288.5" font-size="5.9" text-anchor="end" font-weight="normal" fill="#555" >R.0</text>
<line x1="242.8" y1="312.6" x2="430.2" y2="312.6" stroke="#808080" stroke-width="0.9"/>
<rect x="282.2" y="302.8" width="93.80000000000001" height="19.6" fill="#377EB8" stroke="#2a5a85" stroke-width="0.9"/>
<line x1="335.7" y1="302.8" x2="335.7" y2="322.40000000000003" stroke="#2a5a85" stroke-width="0.8"/>
<line x1="215.9" y1="312.6" x2="217.4" y2="312.6" stroke="#555" stroke-width="0.6"/>
<text x="214.4" y="314.6" font-size="5.9" text-anchor="end" font-weight="normal" fill="#555" >NR.T</text>
<line x1="233" y1="339" x2="442.6" y2="339" stroke="#808080" stroke-width="0.9"/>
<rect x="298" y="329.2" width="76" height="19.6" fill="#E41A1C" stroke="#9a1415" stroke-width="0.9"/>
<line x1="338.4" y1="329.2" x2="338.4" y2="348.8" stroke="#9a1415" stroke-width="0.8"/>
<line x1="215.9" y1="339" x2="217.4" y2="339" stroke="#555" stroke-width="0.6"/>
<text x="214.4" y="341.0" font-size="5.9" text-anchor="end" font-weight="normal" fill="#555" >NR.0</text>
<text x="487.1" y="280.0" font-size="6.6" text-anchor="start" font-weight="normal" fill="#222" stroke="#222" stroke-width="0.08">Group</text>
<circle cx="490.2" cy="287.5" r="3.0" fill="#E41A1C"/>
<text x="497.3" y="290.0" font-size="6.5" text-anchor="start" font-weight="normal" fill="#222" stroke="#222" stroke-width="0.06">NR.0</text>
<circle cx="490.2" cy="294.57" r="3.0" fill="#377EB8"/>
<text x="497.3" y="297.07" font-size="6.5" text-anchor="start" font-weight="normal" fill="#222" stroke="#222" stroke-width="0.06">NR.T</text>
<circle cx="490.2" cy="301.64" r="3.0" fill="#4DAF4A"/>
<text x="497.3" y="304.14" font-size="6.5" text-anchor="start" font-weight="normal" fill="#222" stroke="#222" stroke-width="0.06">R.0</text>
<circle cx="490.2" cy="308.71" r="3.0" fill="#984EA3"/>
<text x="497.3" y="311.21" font-size="6.5" text-anchor="start" font-weight="normal" fill="#222" stroke="#222" stroke-width="0.06">R.T</text>
<text x="486.2" y="350.4" font-size="5.0" text-anchor="start" font-weight="normal" fill="#333" stroke="#333" stroke-width="0.06">PC1(p=0.48)</text>
<text x="486.2" y="357.5" font-size="5.0" text-anchor="start" font-weight="normal" fill="#333" stroke="#333" stroke-width="0.06">PC2(p=0.49)</text>
</svg></body></html>
